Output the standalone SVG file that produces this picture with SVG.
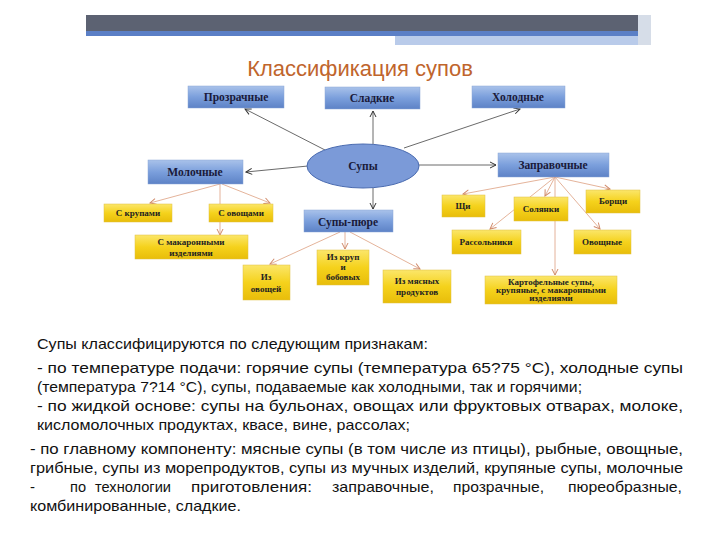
<svg xmlns="http://www.w3.org/2000/svg" width="720" height="540" viewBox="0 0 720 540">
<defs>
<linearGradient id="bl" x1="0" y1="0" x2="0" y2="1"><stop offset="0" stop-color="#a9c2ea"/><stop offset="0.5" stop-color="#7b9fdc"/><stop offset="1" stop-color="#5d82c6"/></linearGradient>
<linearGradient id="yl" x1="0" y1="0" x2="0" y2="1"><stop offset="0" stop-color="#fbe66a"/><stop offset="0.5" stop-color="#f5d21c"/><stop offset="1" stop-color="#e8bd0a"/></linearGradient>
<marker id="a" markerWidth="8" markerHeight="8" refX="7" refY="4" orient="auto" markerUnits="userSpaceOnUse"><path d="M1,1 L7,4 L1,7" fill="none" stroke="#333" stroke-width="1"/></marker>
<marker id="o" markerWidth="8" markerHeight="8" refX="7" refY="4" orient="auto" markerUnits="userSpaceOnUse"><path d="M1,1 L7,4 L1,7" fill="none" stroke="#d08a6a" stroke-width="1"/></marker>
<style>
.b{fill:url(#bl);stroke:#8aa6d6;stroke-width:0.5}
.y{fill:url(#yl);stroke:#e0c040;stroke-width:0.5}
.t{font-family:"Liberation Serif",serif;font-size:11.5px;font-weight:bold;fill:#1a1a3a;text-anchor:middle}
.s{font-family:"Liberation Serif",serif;font-size:9px;font-weight:bold;fill:#222;text-anchor:middle}
.k{stroke:#444;stroke-width:0.8;fill:none;marker-end:url(#a)}
.r{stroke:#dda080;stroke-width:0.8;fill:none;marker-end:url(#o)}
.p{font-family:"Liberation Sans",Arial,sans-serif;font-size:15px;fill:#111}
</style>
</defs>
<rect width="720" height="540" fill="#fff"/>
<rect x="86" y="15" width="565" height="16" fill="#5c6272"/>
<rect x="86" y="31" width="565" height="5" fill="#5b7fc6"/>
<rect x="395" y="36" width="256" height="9" fill="#b9cbea"/>
<rect x="638" y="15" width="13" height="30" fill="#d6dde8"/>
<text x="360" y="76" font-family="Liberation Sans,Arial,sans-serif" font-size="22" fill="#c0652c" text-anchor="middle">Классификация супов</text>
<g id="connectors">
<path class="k" d="M325,150 L245,109"/>
<path class="k" d="M373,144 L373,111"/>
<path class="k" d="M404,148 L520,109"/>
<path class="k" d="M308,166 L246,172"/>
<path class="k" d="M419,165 L496,165"/>
<path class="k" d="M373,188 L373,209"/>
<path class="r" d="M220,184 L150,203"/>
<path class="r" d="M222,184 L270,203"/>
<path class="r" d="M220,184 L220,235"/>
<path class="r" d="M340,232 L270,264"/>
<path class="r" d="M345,232 L345,249"/>
<path class="r" d="M350,232 L420,269"/>
<path class="r" d="M555,177 L463,194"/>
<path class="r" d="M555,177 L545,196"/>
<path class="r" d="M555,177 L610,189"/>
<path class="r" d="M555,177 L490,229"/>
<path class="r" d="M555,177 L600,229"/>
<path class="r" d="M555,177 L555,275"/>
</g>
<g id="n1"><rect class="b" x="188" y="86" width="96" height="22"/><text class="t" x="236" y="101">Прозрачные</text></g>
<g id="n2"><rect class="b" x="325" y="87" width="95" height="22"/><text class="t" x="372" y="102">Сладкие</text></g>
<g id="n3"><rect class="b" x="472" y="86" width="93" height="22"/><text class="t" x="518" y="101">Холодные</text></g>
<g id="n4"><ellipse cx="363" cy="166" rx="56" ry="22" fill="#7b9ad8" stroke="#4a6bb0"/><text class="t" x="363" y="170">Супы</text></g>
<g id="n5"><rect class="b" x="148" y="160" width="95" height="24"/><text class="t" x="195" y="176">Молочные</text></g>
<g id="n6"><rect class="b" x="498" y="153" width="111" height="24"/><text class="t" x="553" y="169">Заправочные</text></g>
<g id="n7"><rect class="b" x="304" y="210" width="89" height="22"/><text class="t" x="348" y="226" font-size="14">Супы-пюре</text></g>
<g id="n8"><rect class="y" x="104" y="204" width="68" height="18"/><text class="s" x="138" y="216">С крупами</text></g>
<g id="n9"><rect class="y" x="209" y="204" width="64" height="18"/><text class="s" x="241" y="216">С овощами</text></g>
<g id="n10"><rect class="y" x="135" y="235" width="113" height="24"/><text class="s" x="191" y="245">С макаронными</text><text class="s" x="191" y="256">изделиями</text></g>
<g id="n11"><rect class="y" x="243" y="265" width="47" height="35"/><text class="s" x="266" y="280">Из</text><text class="s" x="266" y="292">овощей</text></g>
<g id="n12"><rect class="y" x="317" y="250" width="52" height="35"/><text class="s" x="343" y="260">Из круп</text><text class="s" x="343" y="270">и</text><text class="s" x="343" y="280">бобовых</text></g>
<g id="n13"><rect class="y" x="383" y="270" width="68" height="33"/><text class="s" x="417" y="284" font-size="7.5">Из мясных</text><text class="s" x="417" y="295" font-size="7.5">продуктов</text></g>
<g id="n14"><rect class="y" x="442" y="195" width="43" height="22"/><text class="s" x="463" y="209">Щи</text></g>
<g id="n15"><rect class="y" x="514" y="197" width="54" height="24"/><text class="s" x="541" y="212">Солянки</text></g>
<g id="n16"><rect class="y" x="586" y="190" width="54" height="23"/><text class="s" x="613" y="204">Борщи</text></g>
<g id="n17"><rect class="y" x="452" y="230" width="69" height="24"/><text class="s" x="486" y="245">Рассольники</text></g>
<g id="n18"><rect class="y" x="574" y="230" width="57" height="24"/><text class="s" x="602" y="245">Овощные</text></g>
<g id="n19"><rect class="y" x="485" y="276" width="132" height="28"/><text class="s" x="551" y="284.5" font-size="6.8">Картофельные супы,</text><text class="s" x="551" y="292.5" font-size="6.8">крупяные, с макаронными</text><text class="s" x="551" y="300.5" font-size="6.8">изделиями</text></g>
<g class="p" font-size="15">
<text x="37" y="349" textLength="391" lengthAdjust="spacingAndGlyphs">Супы классифицируются по следующим признакам:</text>
<text x="37" y="373" textLength="646" lengthAdjust="spacingAndGlyphs">- по температуре подачи: горячие супы (температура 65?75 °С), холодные супы</text>
<text x="37" y="392" textLength="545" lengthAdjust="spacingAndGlyphs">(температура 7?14 °С), супы, подаваемые как холодными, так и горячими;</text>
<text x="37" y="411" textLength="646" lengthAdjust="spacingAndGlyphs">- по жидкой основе: супы на бульонах, овощах или фруктовых отварах, молоке,</text>
<text x="37" y="430" textLength="373" lengthAdjust="spacingAndGlyphs">кисломолочных продуктах, квасе, вине, рассолах;</text>
<text x="30" y="454" textLength="653" lengthAdjust="spacingAndGlyphs">- по главному компоненту: мясные супы (в том числе из птицы), рыбные, овощные,</text>
<text x="30" y="473" textLength="653" lengthAdjust="spacingAndGlyphs">грибные, супы из морепродуктов, супы из мучных изделий, крупяные супы, молочные</text>
<text x="30" y="492">-</text>
<text x="70" y="492" textLength="16" lengthAdjust="spacingAndGlyphs">по</text>
<text x="95" y="492" textLength="76" lengthAdjust="spacingAndGlyphs">технологии</text>
<text x="191" y="492" textLength="121" lengthAdjust="spacingAndGlyphs">приготовления:</text>
<text x="332" y="492" textLength="102" lengthAdjust="spacingAndGlyphs">заправочные,</text>
<text x="453" y="492" textLength="91" lengthAdjust="spacingAndGlyphs">прозрачные,</text>
<text x="568" y="492" textLength="114" lengthAdjust="spacingAndGlyphs">пюреобразные,</text>
<text x="30" y="511" textLength="211" lengthAdjust="spacingAndGlyphs">комбинированные, сладкие.</text>
</g>
</svg>
